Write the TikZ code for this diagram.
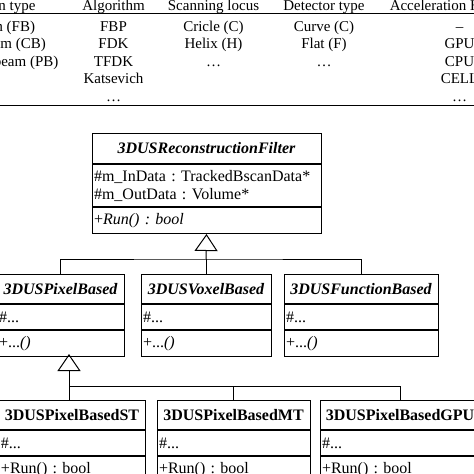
\documentclass[tikz,border=0pt]{standalone}
\usepackage{fontspec}
\setmainfont{Liberation Serif}
\usetikzlibrary{arrows.meta}
\frenchspacing

\tikzset{
    cell/.style={anchor=base, inner sep=0pt, font=\fontsize{15}{17}\selectfont},
    clsname/.style={draw, line width=1pt, anchor=north, inner sep=0pt,
        font=\fontsize{16}{18}\selectfont\bfseries\itshape},
    clsconc/.style={clsname, font=\fontsize{16}{18}\selectfont\bfseries},
    compart/.style={draw, line width=1pt, anchor=north, inner xsep=2pt, inner ysep=0pt,
        align=left, font=\fontsize{16}{18}\selectfont},
    inherit/.style={line width=1pt, -{Triangle[open, length=17pt, width=23pt]}}
}

\begin{document}
\begin{tikzpicture}[x=1pt, y=-1pt]
                \useasboundingbox (0,0) rectangle (474,474);

                % table
                \node[cell, anchor=base west] (hType) at (-56,10) {Projection type};
                \node[cell] (hAlg) at (113.5,10) {Algorithm};
                \node[cell] (hLocus) at (213.5,10) {Scanning locus};
                \node[cell] (hDet) at (324,10) {Detector type};
                \node[cell] (hAcc) at (459.5,10) {Acceleration Hardware};
                \draw[line width=0.6pt] (-60,13.5) -- (480,13.5);

                \node[cell, anchor=base west] (tFB) at (-56,31) {Fan beam (FB)};
                \node[cell, anchor=base west] (tCB) at (-56,48.5) {Cone beam (CB)};
                \node[cell, anchor=base west] (tPB) at (-56,66) {Parallel beam (PB)};

                \foreach \nm/\yy/\txt in {aFBP/31/FBP, aFDK/48.5/FDK, aTFDK/66/TFDK, aKat/83.5/Katsevich, aDots/101/\dots}
                    \node[cell] (\nm) at (113.5,\yy) {\txt};
                \foreach \nm/\yy/\txt in {lC/31/Cricle (C), lH/48.5/Helix (H), lDots/66/\dots}
                    \node[cell] (\nm) at (213.5,\yy) {\txt};
                \foreach \nm/\yy/\txt in {dC/31/Curve (C), dF/48.5/Flat (F), dDots/66/\dots}
                    \node[cell] (\nm) at (324,\yy) {\txt};
                \foreach \nm/\yy/\txt in {cNone/31/--, cGPU/48.5/GPU, cCPU/66/CPU, cCELL/83.5/CELL, cDots/101/\dots}
                    \node[cell] (\nm) at (459.5,\yy) {\txt};

                \draw[line width=1.2pt] (-60,105.5) -- (480,105.5);

                % base class
                \node[clsname, minimum width=229pt, minimum height=30pt] (filter) at (206.5,133) {3DUSReconstructionFilter};
                \node[compart, text width=225pt, minimum height=42pt] (filterAttr) at (filter.south)
                    {\#m\_InData : TrackedBscanData*\\\#m\_OutData : Volume*};
                \node[compart, text width=225pt, minimum height=26pt] (filterOps) at (filterAttr.south)
                    {+\textit{Run() : bool}};

                % abstract subclasses
                \foreach \nm/\cx/\w/\tw/\ttl in {pixel/60.5/127/123/3DUSPixelBased,
                        voxel/206/130/126/3DUSVoxelBased, function/361/154/150/3DUSFunctionBased}
                    {
                        \node[clsname, minimum width=\w pt, minimum height=29pt] (\nm) at (\cx,274) {\ttl};
                        \node[compart, text width=\tw pt, minimum height=25pt] (\nm Attr) at (\nm.south) {\#...};
                        \node[compart, text width=\tw pt, minimum height=26pt] (\nm Ops) at (\nm Attr.south) {+...\textit{()}};
                    }

                % concrete subclasses
                \foreach \nm/\cx/\w/\tw/\ttl in {pixelST/72/146/142/3DUSPixelBasedST,
                        pixelMT/233.5/153/149/3DUSPixelBasedMT, pixelGPU/400/160/156/3DUSPixelBasedGPU}
                    {
                        \node[clsconc, minimum width=\w pt, minimum height=29pt] (\nm) at (\cx,400) {\ttl};
                        \node[compart, text width=\tw pt, minimum height=25pt] (\nm Attr) at (\nm.south) {\#...};
                        \node[compart, text width=\tw pt, minimum height=26pt] (\nm Ops) at (\nm Attr.south) {+Run() : bool};
                    }

                % generalisation
                \coordinate (hubA) at (206,259);
                \draw[line width=1pt] (pixel.north) |- (hubA) -| (function.north);
                \draw[line width=1pt] (hubA) -- (voxel.north);
                \draw[inherit] (hubA) -- (filterOps.south);

                \coordinate (pixTip) at (69,354);
                \coordinate (hubB) at (69,386);
                \draw[line width=1pt] (hubB) -- (hubB |- pixelST.north);
                \draw[line width=1pt] (hubB) -| (pixelMT.north);
                \draw[line width=1pt] (hubB) -| (pixelGPU.north);
                \draw[inherit] (hubB) -- (pixTip);
            \end{tikzpicture}
\end{document}
